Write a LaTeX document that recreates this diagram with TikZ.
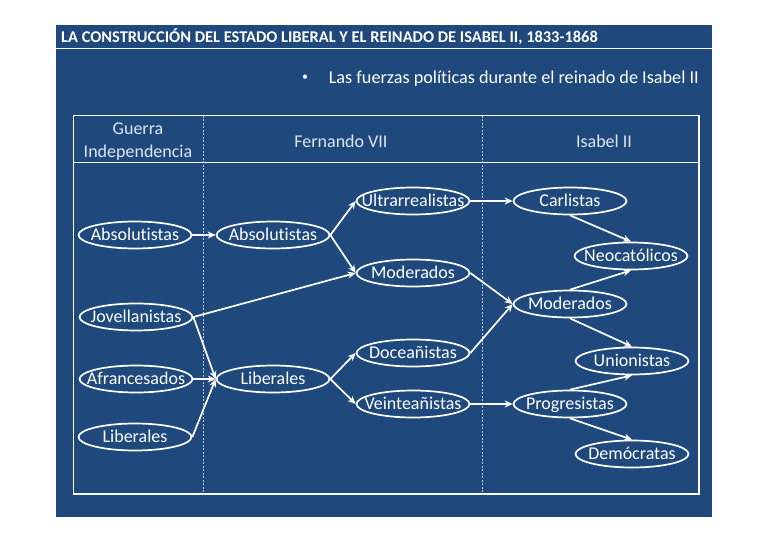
\documentclass[tikz,border=0pt]{standalone}
\usepackage{fontspec}
\setmainfont[Ligatures=NoCommon]{Carlito}
\usetikzlibrary{arrows.meta,shapes.geometric}
\definecolor{panel}{RGB}{31,73,125}
\definecolor{hdr}{RGB}{222,230,240}
\begin{document}
\begin{tikzpicture}[x=1pt,y=-1pt,
 party/.style={ellipse, draw=white, line width=1.7pt, minimum width=113pt, minimum height=27pt, inner sep=0pt, text=white, font=\fontsize{18}{18}\selectfont,
   text height=12pt, text depth=0.5pt,
   execute at begin node={\hbox to 0pt\bgroup\hss}, execute at end node={\hss\egroup}},
 link/.style={draw=white, line width=1.7pt, -{Stealth[length=8pt,width=7pt]}},
 head/.style={text=hdr, font=\fontsize{18}{23}\selectfont, align=center},
 sep/.style={draw=hdr!80!panel, line width=0.7pt, dash pattern=on 2pt off 1.5pt},
]
\useasboundingbox (0,0) rectangle (768,543);
\fill[white] (0,0) rectangle (768,543);
\fill[panel] (55.5,25) rectangle (712,517);
\draw[white, line width=1pt] (55.5,48.5) -- (712,48.5);
\node[anchor=west, text=white, font=\bfseries\fontsize{16.4}{16}\selectfont, inner sep=0pt] (title) at (61,37) {LA CONSTRUCCIÓN DEL ESTADO LIBERAL Y EL REINADO DE ISABEL II, 1833-1868};
\node[anchor=east, text=white, font=\fontsize{18.2}{18}\selectfont, inner sep=0pt] (sub) at (699,79) {Las fuerzas políticas durante el reinado de Isabel II};
\node[text=white, font=\fontsize{12}{12}\selectfont, inner sep=0pt] (bullet) at (305,78) {•};
% table
\draw[white, line width=1.3pt] (73.5,115.5) rectangle (699,494);
\draw[white, line width=1.1pt] (73.5,162.5) -- (699,162.5);
\draw[sep] (203,115.5) -- (203,494);
\draw[sep] (482,115.5) -- (482,494);
\node[head] (hGI) at (138,141.5) {Guerra\\Independencia};
\node[head] (hF) at (341,141) {Fernando VII};
\node[head] (hI) at (604,141) {Isabel II};
% nodes
\node[party] (absG) at (135,235) {Absolutistas};
\node[party] (jov)  at (136,317) {Jovellanistas};
\node[party] (afr)  at (136,379) {Afrancesados};
\node[party] (libG) at (135,437) {Liberales};
\node[party] (absF) at (273,235) {Absolutistas};
\node[party] (libF) at (273,379) {Liberales};
\node[party] (ultra) at (413,201) {Ultrarrealistas};
\node[party] (modF) at (413,273) {Moderados};
\node[party] (doce) at (413,353) {Doceañistas};
\node[party] (veint) at (413,404) {Veinteañistas};
\node[party] (carl) at (570,201) {Carlistas};
\node[party] (neo)  at (631,256) {Neocatólicos};
\node[party] (modI) at (570,304) {Moderados};
\node[party] (union) at (632,361) {Unionistas};
\node[party] (prog) at (570,404) {Progresistas};
\node[party] (demo) at (632,454) {Demócratas};
% links
\draw[link] (absG.east) -- (absF.west);
\draw[link] (absF.east) -- (ultra.west);
\draw[link] (absF.east) -- (modF.west);
\draw[link] (jov.east) -- (modF.west);
\draw[link] (jov.east) -- (libF.west);
\draw[link] (afr.east) -- (libF.west);
\draw[link] (libG.east) -- (libF.west);
\draw[link] (libF.east) -- (doce.west);
\draw[link] (libF.east) -- (veint.west);
\draw[link] (ultra.east) -- (carl.west);
\draw[link] (modF.east) -- (modI.west);
\draw[link] (doce.east) -- (modI.west);
\draw[link] (veint.east) -- (prog.west);
\draw[link] (carl.south) -- (neo.north);
\draw[link] (modI.north) -- (neo.south);
\draw[link] (modI.south) -- (union.north);
\draw[link] (prog.north) -- (union.south);
\draw[link] (prog.south) -- (demo.north);
\end{tikzpicture}
\end{document}
